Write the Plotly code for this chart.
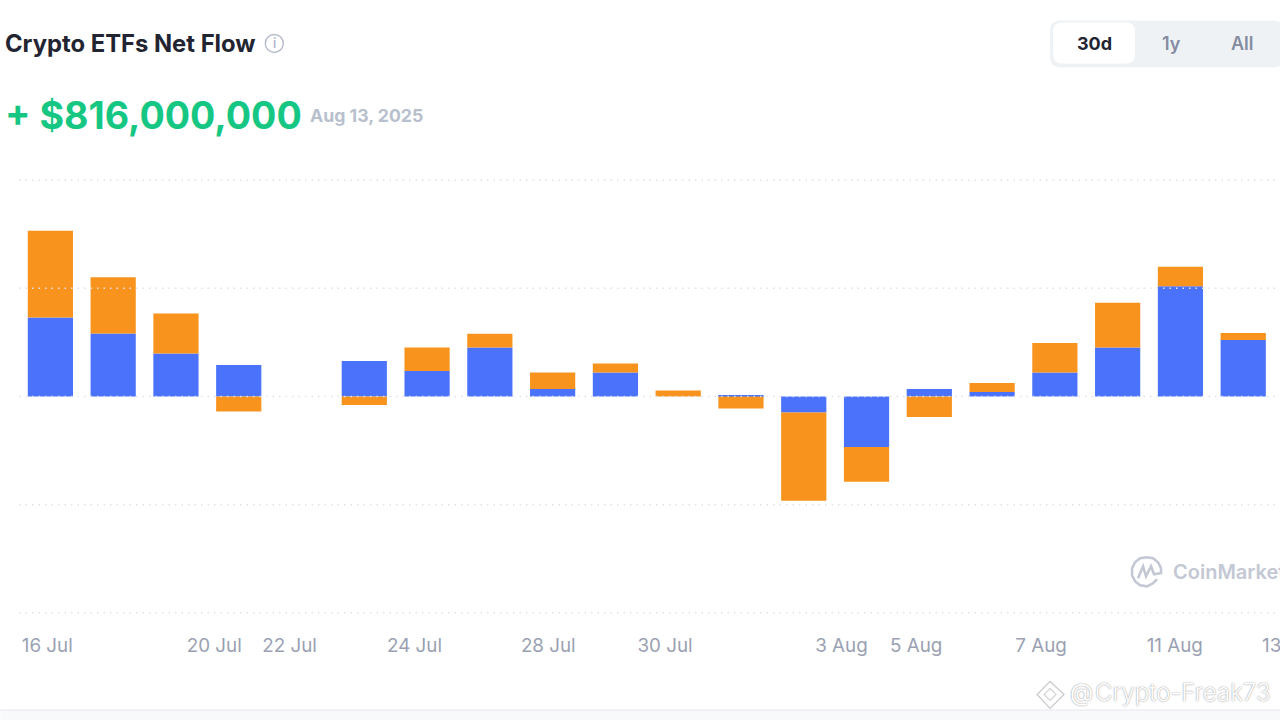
import plotly.graph_objects as go

# one slot per bar, slot 4 has no data in the picture
slots = list(range(20))
eth_flow = [731, 583, 398, 292, None, 329, 236, 454, 69, 222, 0, 9, -148, -468, 69, 42, 222, 454, 1019, 523]
btc_flow = [801, 519, 370, -139, None, -79, 218, 125, 153, 83, 56, -111, -815, -319, -190, 83, 273, 412, 181, 65]

tick_labels = ["16 Jul", "20 Jul", "22 Jul", "24 Jul", "28 Jul", "30 Jul", "3 Aug", "5 Aug", "7 Aug", "11 Aug"]
tick_slots = [-0.05, 2.61, 3.81, 5.8, 7.93, 9.79, 12.6, 13.79, 15.78, 17.91]
grid_values = [2000, 1000, 0, -1000, -2000]

BLUE = "#4a72fa"
ORANGE = "#f8931d"
GREEN = "#16c784"
DARK = "#222531"
GREY = "#9aa1b2"
FONT = "Inter"

W, H = 1280, 720
L, R, T, B = 18.6, 0, 178.34, 105.34


# page pixels to paper coordinates, only used for the header and logos
def px(x):
    return (x - L) / (W - L - R)


def py(y):
    return 1 - (y - T) / (H - T - B)


def round_rect(x0, y0, x1, y1, r):
    return (
        f"M {px(x0 + r)} {py(y0)} L {px(x1 - r)} {py(y0)} Q {px(x1)} {py(y0)} {px(x1)} {py(y0 + r)} "
        f"L {px(x1)} {py(y1 - r)} Q {px(x1)} {py(y1)} {px(x1 - r)} {py(y1)} "
        f"L {px(x0 + r)} {py(y1)} Q {px(x0)} {py(y1)} {px(x0)} {py(y1 - r)} "
        f"L {px(x0)} {py(y0 + r)} Q {px(x0)} {py(y0)} {px(x0 + r)} {py(y0)} Z"
    )


def poly(points, close=False):
    s = "M " + " L ".join(f"{px(x)} {py(y)}" for x, y in points)
    return s + " Z" if close else s


def label(x, y, text, size, color, weight=400, anchor="left", **font_extra):
    return dict(
        x=px(x), y=py(y), xref="paper", yref="paper", text=text, showarrow=False,
        xanchor=anchor, yanchor="middle", align=anchor,
        font=dict(family=FONT, size=size, color=color, weight=weight, **font_extra),
    )


fig = go.Figure()
fig.add_trace(go.Bar(x=slots, y=eth_flow, name="ETH", marker=dict(color=BLUE, line=dict(width=0))))
fig.add_trace(go.Bar(x=slots, y=btc_flow, name="BTC", marker=dict(color=ORANGE, line=dict(width=0))))

shapes = []
# dotted grid goes over the bars, as in the original
for v in grid_values:
    shapes.append(dict(type="line", xref="paper", yref="y", x0=0, x1=1, y0=v, y1=v, layer="above",
                       line=dict(color="#dfe2e9", width=1.5, dash="1.5px,5px")))

# range toggle
shapes.append(dict(type="path", path=round_rect(1050, 21, 1284, 68, 11), xref="paper", yref="paper",
                   fillcolor="#eff2f5", line=dict(width=0), layer="below"))
shapes.append(dict(type="path", path=round_rect(1053, 23, 1135, 64, 9), xref="paper", yref="paper",
                   fillcolor="#ffffff", line=dict(width=0), layer="below"))

# info icon
shapes.append(dict(type="circle", xref="paper", yref="paper", x0=px(265), x1=px(283), y0=py(35), y1=py(53),
                   line=dict(color="#b4bac9", width=1.4)))

# coinmarketcap logo
shapes.append(dict(type="path", xref="paper", yref="paper", line=dict(color="#c3c8d4", width=2.6),
                   path=poly([(1157, 579), (1153, 583), (1147, 586), (1140, 585), (1135, 581), (1132, 575),
                              (1132, 568), (1135, 562), (1140, 558), (1147, 557), (1153, 558), (1158, 562),
                              (1161, 568), (1161, 574)])))
shapes.append(dict(type="path", xref="paper", yref="paper", line=dict(color="#c3c8d4", width=2.6),
                   path=poly([(1138, 578), (1143, 566), (1146, 576), (1151, 566), (1154, 574), (1160, 573)])))

# binance style watermark diamond
shapes.append(dict(type="path", xref="paper", yref="paper", line=dict(color="#c9c9c9", width=1.2),
                   fillcolor="rgba(255,255,255,0.8)",
                   path=poly([(1050, 681), (1064, 694), (1050, 708), (1037, 694)], close=True)))
shapes.append(dict(type="path", xref="paper", yref="paper", line=dict(color="#d4d4d4", width=1.2),
                   path=poly([(1050, 688), (1056, 694), (1050, 700), (1044, 694)], close=True)))

# bottom strip of the page
shapes.append(dict(type="rect", xref="paper", yref="paper", x0=px(0), x1=px(1280), y0=py(709.5), y1=py(720),
                   fillcolor="#f8f9fb", line=dict(width=0), layer="below"))
shapes.append(dict(type="line", xref="paper", yref="paper", x0=px(0), x1=px(1280), y0=py(709.5), y1=py(709.5),
                   line=dict(color="#eceef2", width=1.5), layer="below"))

annotations = [
    label(3, 44, "Crypto ETFs Net Flow", 23.8, DARK, 700),
    label(274, 44, "i", 13, "#a9b0c1", 500, "center"),
    label(3, 116, "+ $816,000,000", 37.6, GREEN, 700),
    label(308, 116, "Aug 13, 2025", 17.7, "#b8bfcd", 700),
    label(1094, 44, "30d", 18, DARK, 700, "center"),
    label(1171, 44, "1y", 18, "#858ca2", 600, "center"),
    label(1242, 44, "All", 18, "#858ca2", 600, "center"),
    label(1260, 645, "13 Aug", 18.8, GREY),
    label(1171, 572, "CoinMarketCap", 20, "#c3c8d4", 600),
    label(1068, 692, "@", 24, "#ffffff", 400, shadow="0 0 1.5px #777"),
    label(1093, 692, "Crypto-Freak73", 24, "#ffffff", 300, shadow="0 0 1.5px #777"),
]

fig.update_layout(
    width=W, height=H, barmode="relative", bargap=0.28, showlegend=False,
    paper_bgcolor="#ffffff", plot_bgcolor="#ffffff",
    margin=dict(l=L, r=R, t=T, b=B, pad=0),
    shapes=shapes, annotations=annotations,
    font=dict(family=FONT),
)
fig.update_xaxes(range=[-0.5, 19.586], tickmode="array", tickvals=tick_slots, ticktext=tick_labels,
                 showgrid=False, zeroline=False, showline=False, ticks="", ticklabelstandoff=17,
                 tickfont=dict(family=FONT, size=18.8, color=GREY))
fig.update_yaxes(range=[-2020, 2020], showgrid=False, zeroline=False, showticklabels=False)

fig.write_html("out.html", config={"displayModeBar": False},
               post_script="document.body.style.margin='0';document.body.style.overflow='hidden';")
